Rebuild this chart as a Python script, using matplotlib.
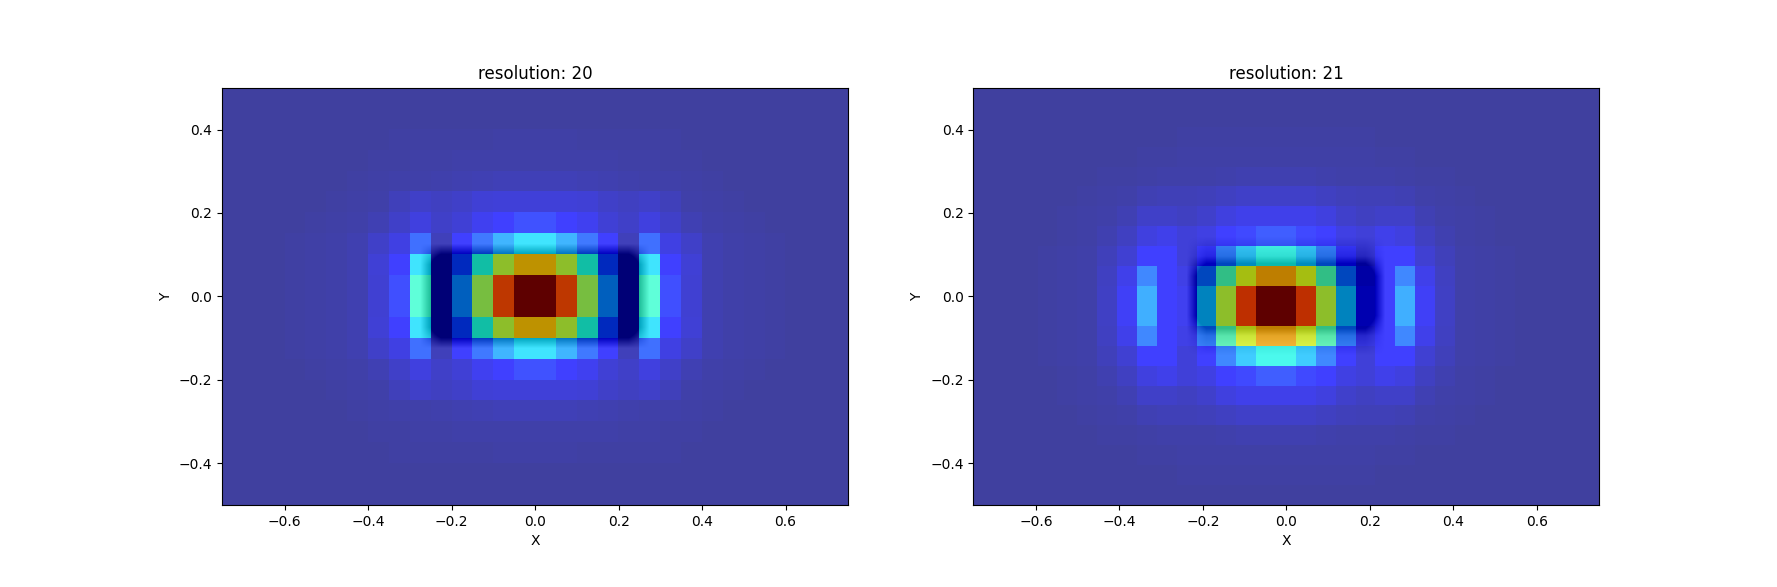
import numpy as np
import matplotlib
matplotlib.use("Agg")
import matplotlib.pyplot as plt

# ---------------- data: resolution 20 (cells of 0.05, 30 x 20 grid) ----------------
res20 = 20
# field core: x cells -0.60..0.60 (24 cols), y cells 0.40..-0.40 (16 rows), top row first
field20_core = [
    [0,0,0,0,0,.004,.005,.005,.005,.007,.008,.008,.008,.008,.007,.005,.005,.005,.004,0,0,0,0,0],
    [0,0,0,0,.004,.007,.010,.010,.012,.014,.015,.015,.015,.015,.014,.012,.010,.010,.007,.004,0,0,0,0],
    [0,0,0,.004,.008,.012,.014,.016,.020,.025,.030,.030,.030,.030,.025,.020,.016,.014,.012,.008,.004,0,0,0],
    [0,0,.004,.008,.015,.035,.050,.040,.047,.064,.070,.070,.070,.070,.064,.047,.040,.050,.035,.015,.008,.004,0,0],
    [0,.005,.010,.015,.025,.050,.075,.050,.065,.095,.120,.150,.150,.120,.095,.065,.050,.075,.050,.025,.015,.010,.005,0],
    [.005,.010,.015,.020,.050,.080,.190,.035,.115,.200,.280,.340,.340,.280,.200,.115,.035,.190,.080,.050,.020,.015,.010,.005],
    [.005,.010,.015,.020,.065,.120,.340,.030,.180,.380,.580,.700,.700,.580,.380,.180,.030,.340,.120,.065,.020,.015,.010,.005],
    [.005,.010,.015,.020,.060,.145,.400,.030,.250,.545,.830,1.00,1.00,.830,.545,.250,.030,.400,.145,.060,.020,.015,.010,.005],
    [.005,.010,.015,.020,.060,.145,.400,.030,.250,.545,.830,1.00,1.00,.830,.545,.250,.030,.400,.145,.060,.020,.015,.010,.005],
    [.005,.010,.015,.020,.065,.120,.340,.030,.180,.380,.580,.700,.700,.580,.380,.180,.030,.340,.120,.065,.020,.015,.010,.005],
    [.005,.010,.015,.020,.050,.080,.190,.035,.115,.200,.280,.340,.340,.280,.200,.115,.035,.190,.080,.050,.020,.015,.010,.005],
    [0,.005,.010,.015,.025,.050,.075,.050,.065,.095,.120,.150,.150,.120,.095,.065,.050,.075,.050,.025,.015,.010,.005,0],
    [0,0,.004,.008,.015,.035,.050,.040,.047,.064,.070,.070,.070,.070,.064,.047,.040,.050,.035,.015,.008,.004,0,0],
    [0,0,0,.004,.008,.012,.014,.016,.020,.025,.030,.030,.030,.030,.025,.020,.016,.014,.012,.008,.004,0,0,0],
    [0,0,0,0,.004,.007,.010,.010,.012,.014,.015,.015,.015,.015,.014,.012,.010,.010,.007,.004,0,0,0,0],
    [0,0,0,0,0,.004,.005,.005,.005,.007,.008,.008,.008,.008,.007,.005,.005,.005,.004,0,0,0,0,0],
]
# dielectric block (x -0.25..0.25, y -0.1..0.1): 4 rows x 10 cols
eps20_core = [
    [2,2,2,2,2,2,2,2,2,2],
    [2,2,2,2,2,2,2,2,2,2],
    [2,2,2,2,2,2,2,2,2,2],
    [2,2,2,2,2,2,2,2,2,2],
]

# ---------------- data: resolution 21 (cells of 1/21, 33 x 23 grid) ----------------
res21 = 21
# field core: x cells k=-12..11, y cells m=8..-9 (top row first)
field21_core = [
    [0,0,0,0,0,.002,.003,.004,.005,.005,.006,.006,.006,.006,.005,.005,.004,.003,.002,0,0,0,0,0],
    [0,0,0,0,.003,.005,.006,.008,.008,.010,.010,.010,.010,.010,.010,.008,.008,.006,.005,.003,0,0,0,0],
    [0,0,.002,.004,.006,.010,.012,.014,.014,.016,.020,.020,.020,.020,.016,.014,.014,.012,.010,.006,.004,.002,0,0],
    [0,.002,.005,.008,.012,.024,.030,.030,.035,.040,.047,.047,.047,.047,.040,.035,.030,.030,.024,.012,.008,.005,.002,0],
    [.002,.004,.008,.015,.025,.047,.047,.042,.053,.075,.087,.087,.087,.087,.075,.053,.042,.047,.047,.025,.015,.008,.004,.002],
    [.003,.006,.010,.020,.040,.075,.087,.070,.080,.115,.140,.165,.165,.140,.115,.080,.070,.087,.075,.040,.020,.010,.006,.003],
    [.005,.008,.012,.035,.060,.115,.115,.070,.120,.220,.310,.370,.370,.310,.220,.120,.070,.115,.115,.060,.035,.012,.008,.005],
    [.005,.008,.015,.040,.087,.220,.120,.085,.220,.430,.620,.730,.730,.620,.430,.220,.085,.120,.220,.087,.040,.015,.008,.005],
    [.005,.008,.015,.045,.105,.270,.120,.095,.300,.580,.840,1.00,1.00,.840,.580,.300,.095,.120,.270,.105,.045,.015,.008,.005],
    [.005,.008,.015,.045,.105,.270,.120,.095,.300,.580,.840,1.00,1.00,.840,.580,.300,.095,.120,.270,.105,.045,.015,.008,.005],
    [.005,.008,.015,.040,.087,.220,.120,.085,.220,.430,.620,.730,.730,.620,.430,.220,.085,.120,.220,.087,.040,.015,.008,.005],
    [.005,.008,.012,.035,.060,.115,.115,.070,.120,.220,.310,.370,.370,.310,.220,.120,.070,.115,.115,.060,.035,.012,.008,.005],
    [.003,.006,.010,.020,.040,.075,.087,.070,.080,.115,.140,.165,.165,.140,.115,.080,.070,.087,.075,.040,.020,.010,.006,.003],
    [.002,.004,.008,.015,.025,.047,.047,.042,.053,.075,.087,.087,.087,.087,.075,.053,.042,.047,.047,.025,.015,.008,.004,.002],
    [0,.002,.005,.008,.012,.024,.030,.030,.035,.040,.047,.047,.047,.047,.040,.035,.030,.030,.024,.012,.008,.005,.002,0],
    [0,0,.002,.004,.006,.010,.012,.014,.014,.016,.020,.020,.020,.020,.016,.014,.014,.012,.010,.006,.004,.002,0,0],
    [0,0,0,0,.003,.005,.006,.008,.008,.010,.010,.010,.010,.010,.010,.008,.008,.006,.005,.003,0,0,0,0],
    [0,0,0,0,0,.002,.003,.004,.005,.005,.006,.006,.006,.006,.005,.005,.004,.003,.002,0,0,0,0,0],
]
# dielectric block: rows m=2..-2, cols k=-4..4 (edge rows partially filled)
eps21_core = [
    [.4,.4,.4,.4,.4,.4,.4,.4,.4],
    [2,2,2,2,2,2,2,2,2],
    [2,2,2,2,2,2,2,2,2],
    [2,2,2,2,2,2,2,2,2],
    [.4,.4,.4,.4,.4,.4,.4,.4,.4],
]

titles = ["resolution: 20", "resolution: 21"]
x_ticks = [-0.6, -0.4, -0.2, 0.0, 0.2, 0.4, 0.6]
y_ticks = [-0.4, -0.2, 0.0, 0.2, 0.4]


def embed(core, shape, r0, c0):
    full = np.zeros(shape)
    core = np.asarray(core, dtype=float)
    full[r0:r0 + core.shape[0], c0:c0 + core.shape[1]] = core
    return full


# grids
f20 = embed(field20_core, (20, 30), 2, 3)
e20 = embed(eps20_core, (20, 30), 8, 10)
ext20 = [-0.75, 0.75, -0.5, 0.5]

f21 = embed(field21_core, (23, 33), 3, 4)
e21 = embed(eps21_core, (23, 33), 9, 12)
ext21 = [-16.5 / res21, 16.5 / res21, -11.5 / res21, 11.5 / res21]

fig, axes = plt.subplots(1, 2, figsize=(17.77, 5.87), dpi=100)
for ax, f, e, ext, title in zip(axes, [f20, f21], [e20, e21], [ext20, ext21], titles):
    ax.imshow(e, cmap="binary", vmin=0, vmax=1, extent=ext, origin="upper",
              interpolation="bilinear", interpolation_stage="data")
    ax.imshow(f, cmap="jet", vmin=0, vmax=1, extent=ext, origin="upper",
              interpolation="nearest", alpha=0.75)
    ax.set_xlim(-0.75, 0.75)
    ax.set_ylim(-0.5, 0.5)
    ax.set_xticks(x_ticks)
    ax.set_yticks(y_ticks)
    ax.set_title(title)
    ax.set_xlabel("X")
    ax.set_ylabel("Y")

fig.savefig("out.png", dpi=100)
